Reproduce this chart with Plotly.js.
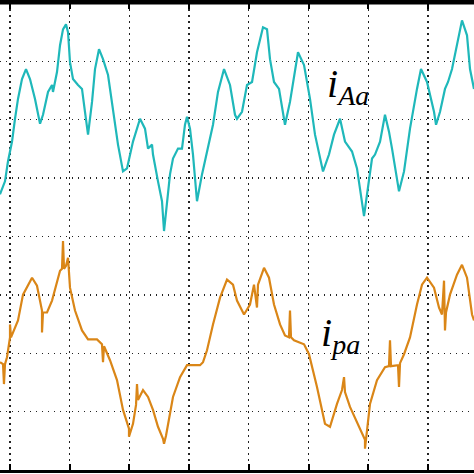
<!DOCTYPE html>
<html><head><meta charset="utf-8">
<script src="https://cdn.plot.ly/plotly-3.0.1.min.js"></script>
<style>html,body{margin:0;padding:0;background:#fff;}#plot{width:474px;height:474px;}</style>
</head><body><div id="plot"></div>
<script>
// time in ms (grid = 1 ms), current in per-unit (grid = 1)
const tA = [-0.168,-0.084,-0.034,0.034,0.084,0.134,0.201,0.268,0.335,0.419,0.503,0.553,0.637,0.704,0.720,0.787,0.838,0.888,0.938,0.972,1.005,1.055,1.139,1.206,1.256,1.307,1.374,1.424,1.491,1.558,1.642,1.725,1.809,1.893,1.960,2.060,2.178,2.261,2.312,2.379,2.395,2.479,2.546,2.580,2.630,2.680,2.730,2.814,2.881,2.931,2.965,3.015,3.065,3.132,3.216,3.300,3.400,3.484,3.585,3.685,3.769,3.802,3.886,3.970,4.054,4.137,4.238,4.305,4.355,4.422,4.506,4.606,4.690,4.824,4.925,5.025,5.109,5.243,5.343,5.427,5.528,5.611,5.729,5.812,5.879,5.930,5.980,6.064,6.114,6.198,6.281,6.348,6.399,6.449,6.516,6.600,6.700,6.817,6.884,6.985,7.102,7.136,7.203,7.286,7.337,7.404,7.487,7.571,7.655,7.705,7.772];
const iAa = [-1.277,-1.055,-0.715,-0.374,0.017,0.357,0.698,0.868,0.698,0.357,-0.068,0.085,0.477,0.596,0.477,0.817,1.277,1.549,1.634,1.498,0.987,0.698,0.596,0.528,0.136,-0.255,0.306,0.868,1.209,1.038,0.766,0.136,-0.426,-0.885,-0.834,-0.374,0.017,-0.153,-0.494,-0.426,-0.596,-1.055,-1.396,-1.906,-1.396,-0.936,-0.664,-0.494,-0.494,-0.085,0.051,-0.153,-0.596,-1.396,-0.936,-0.545,-0.085,0.477,0.868,0.596,0.085,0.017,0.136,0.596,0.647,1.157,1.583,1.549,1.038,0.647,0.528,-0.085,0.306,1.157,0.936,0.357,-0.255,-0.885,-0.596,-0.255,0.017,-0.374,-0.545,-0.834,-1.345,-1.651,-1.277,-0.664,-0.596,-0.374,0.085,-0.204,-0.494,-0.834,-1.226,-0.885,-0.153,0.528,0.868,0.647,0.136,-0.085,0.136,0.528,0.647,0.868,1.277,1.702,1.447,0.868,0.528];

const tP = [-0.168,-0.117,-0.101,-0.084,-0.050,0.000,0.000,0.017,0.134,0.218,0.369,0.452,0.536,0.536,0.553,0.620,0.704,0.787,0.838,0.871,0.888,0.905,0.938,0.972,0.988,1.005,1.089,1.206,1.307,1.457,1.541,1.558,1.575,1.675,1.792,1.893,1.993,1.993,2.060,2.111,2.127,2.144,2.228,2.312,2.395,2.479,2.563,2.580,2.613,2.647,2.730,2.848,2.965,3.065,3.183,3.233,3.300,3.400,3.518,3.635,3.735,3.802,3.920,4.020,4.087,4.137,4.154,4.255,4.338,4.422,4.523,4.606,4.673,4.690,4.707,4.757,4.925,5.008,5.142,5.276,5.360,5.477,5.561,5.595,5.611,5.695,5.846,5.946,5.946,5.963,6.030,6.147,6.281,6.348,6.365,6.382,6.499,6.516,6.533,6.600,6.700,6.817,6.901,6.985,7.102,7.186,7.236,7.270,7.286,7.303,7.370,7.487,7.571,7.655,7.739,7.772];
const ipa = [-0.153,-0.187,-0.528,-0.187,-0.068,0.272,0.494,0.272,0.562,1.004,1.294,1.157,0.732,0.357,0.698,0.698,0.902,1.243,1.413,1.447,1.923,1.447,1.498,1.634,1.447,1.123,0.732,0.391,0.238,0.238,0.153,-0.153,0.119,-0.119,-0.460,-0.970,-1.294,-1.430,-1.209,-0.885,-0.528,-0.800,-0.630,-0.749,-0.970,-1.260,-1.464,-1.549,-1.413,-1.209,-0.749,-0.409,-0.204,-0.204,-0.204,-0.153,0.051,0.494,0.953,1.260,1.174,0.902,0.664,0.834,1.174,0.783,1.174,1.464,1.294,0.834,0.494,0.306,0.272,0.732,0.272,0.221,0.153,-0.017,-0.579,-1.209,-1.260,-0.868,-0.630,-0.409,-0.664,-0.919,-1.260,-1.481,-1.634,-1.481,-0.868,-0.460,-0.238,-0.221,0.221,-0.221,-0.204,-0.579,-0.170,-0.017,0.272,0.834,1.174,1.294,1.123,0.783,0.664,1.243,0.391,0.698,1.004,1.345,1.515,1.294,0.664,0.562];

const labelA = "<i>i<sub>Aa</sub></i>";
const labelP = "<i>i<sub>pa</sub></i>";
const offA = 6, offP = 2;

const traces = [
  {x: tA, y: iAa.map(v => v + offA), mode: 'lines', line: {color: '#1FB8BA', width: 2.2}, hoverinfo: 'skip'},
  {x: tP, y: ipa.map(v => v + offP), mode: 'lines', line: {color: '#DA8617', width: 2.2}, hoverinfo: 'skip'}
];

const layout = {
  width: 474, height: 474,
  margin: {l: 0, r: 0, t: 3, b: 4, pad: 0},
  paper_bgcolor: '#fff', plot_bgcolor: '#fff',
  showlegend: false,
  xaxis: {
    range: [-0.1675, 7.772], dtick: 1, tick0: 0,
    showgrid: true, gridcolor: '#222', gridwidth: 1.3, griddash: '1.5px,4.5px',
    zeroline: false, showline: true, linecolor: '#000', linewidth: 3,
    mirror: 'ticks', ticks: 'inside', ticklen: 6, tickwidth: 2, tickcolor: '#000',
    showticklabels: false
  },
  yaxis: {
    range: [0, 8], dtick: 1, tick0: 0,
    showgrid: true, gridcolor: '#222', gridwidth: 1.3, griddash: '1.5px,4.5px',
    zeroline: false, showline: false, ticks: '', showticklabels: false
  },
  shapes: [
    {type: 'line', xref: 'paper', yref: 'paper', x0: 0, x1: 1, y0: 1, y1: 1, line: {color: '#000', width: 3}, layer: 'above'}
  ],
  annotations: [
    {x: 5.66, y: 6.58, xref: 'x', yref: 'y', text: labelA, showarrow: false,
     xanchor: 'center', yanchor: 'middle', font: {family: 'Liberation Serif, Times New Roman, serif', size: 40, color: '#000'}},
    {x: 5.53, y: 2.32, xref: 'x', yref: 'y', text: labelP, showarrow: false,
     xanchor: 'center', yanchor: 'middle', font: {family: 'Liberation Serif, Times New Roman, serif', size: 40, color: '#000'}}
  ]
};

Plotly.newPlot('plot', traces, layout, {staticPlot: true, displayModeBar: false});
</script></body></html>
